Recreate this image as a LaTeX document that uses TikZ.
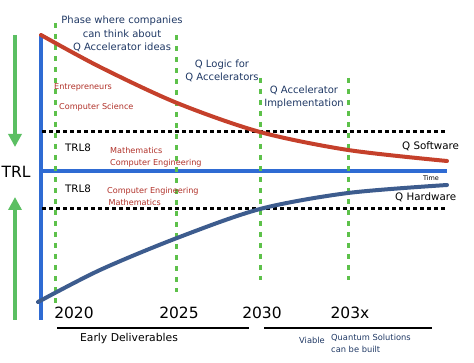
\documentclass[tikz,border=0pt]{standalone}
\usepackage{fontspec}
\setmainfont{DejaVu Sans}
\usetikzlibrary{arrows.meta, positioning}
\definecolor{axisblue}{HTML}{2F6BD3}
\definecolor{swred}{HTML}{C5402B}
\definecolor{hwblue}{HTML}{3D5C8E}
\definecolor{phasegreen}{HTML}{5DC14A}
\definecolor{arrowgreen}{HTML}{5BBF62}
\definecolor{navytext}{HTML}{1F3864}
\definecolor{redtext}{HTML}{B03028}

\begin{document}
\begin{tikzpicture}[x=1pt, y=-1pt,
    phase/.style={text=navytext, font=\fontsize{10}{13.5}\selectfont, align=center, inner sep=0pt},
    field/.style={text=redtext, font=\fontsize{8.1}{12}\selectfont, align=left, inner sep=0pt, anchor=west},
    level/.style={font=\fontsize{10.3}{12}\selectfont, inner sep=0pt, anchor=west},
    year/.style={font=\fontsize{15.5}{16}\selectfont, inner sep=0pt},
    milestone/.style={phasegreen, line width=3pt, dash pattern=on 5pt off 6pt},
    trlline/.style={black, line width=3pt, dash pattern=on 3.5pt off 3.5pt},
    curve/.style={line width=4pt, line cap=round},
    trlarrow/.style={arrowgreen, line width=4pt, -{Triangle[length=13pt, width=13pt]}},
    span/.style={black, line width=1.5pt}]
\useasboundingbox (0,0) rectangle (474,363);

% axes
\coordinate (top) at (41,35);
\coordinate (bottom) at (41,320);
\coordinate (t0) at (41,171);
\coordinate (t1) at (447,171);
\draw[axisblue, line width=4pt] (top) -- (bottom);
\draw[axisblue, line width=4pt] (t0) -- (t1);
\node (time) [font=\fontsize{6.5}{7}\selectfont, inner sep=0pt] at (431,178) {Time};

% TRL8 levels
\coordinate (sw0) at (42,132);
\coordinate (sw1) at (447,132);
\coordinate (hw0) at (42,209);
\coordinate (hw1) at (447,209);
\draw[trlline] (sw0) -- (sw1);
\draw[trlline] (hw0) -- (hw1);

% phase boundaries
\foreach \x/\ya/\yb in {55/23/305, 176/35/292, 260/78/280, 348/78/280}
  \draw[milestone] (\x,\ya) -- (\x,\yb);

% curves
\draw[curve, swred] plot[smooth, tension=0.5] coordinates {(41,35) (100,67) (177,103) (260,132) (348,150) (447,161)};
\draw[curve, hwblue] plot[smooth, tension=0.5] coordinates {(38,302) (100,270) (177,238) (260,209) (348,193) (447,185)};

% TRL arrows
\coordinate (d0) at (15,35);
\coordinate (d1) at (15,147);
\coordinate (u0) at (15,320);
\coordinate (u1) at (15,197);
\draw[trlarrow] (d0) -- (d1);
\draw[trlarrow] (u0) -- (u1);
\node (trl) [font=\fontsize{15.5}{18}\selectfont, inner sep=0pt] at (16,172) {TRL};

% phase labels
\node (idea) [phase] at (122,34) {Phase where companies\\can think about\\Q Accelerator ideas};
\node (logic) [phase] at (222,71) {Q Logic for\\Q Accelerators};
\node (impl) [phase] at (304,97) {Q Accelerator\\Implementation};

% fields
\node (entre) [field] at (54,87) {Entrepreneurs};
\node (cs) [field] at (59,107) {Computer Science};
\node (trlsw) [level] at (65,148) {TRL8};
\node (mathce) [field] at (110,157) {Mathematics\\Computer Engineering};
\node (trlhw) [level] at (65,189) {TRL8};
\node (cemath) [field] at (107,196) {Computer Engineering\\\,Mathematics};
\node (qsw) [level] at (402,146) {Q Software};
\node (qhw) [level] at (395,197) {Q Hardware};

% years
\node (y2020) [year] at (74,313) {2020};
\node (y2025) [year] at (179,313) {2025};
\node (y2030) [year] at (262,313) {2030};
\node (y203x) [year] at (350,313) {203x};

% deliverables
\coordinate (e0) at (57,328);
\coordinate (e1) at (249,328);
\coordinate (v0) at (264,328);
\coordinate (v1) at (432,328);
\draw[span] (e0) -- (e1);
\draw[span] (v0) -- (v1);
\node (early) [font=\fontsize{10.8}{12}\selectfont, inner sep=0pt] at (129,339) {Early Deliverables};
\node (viable) [text=navytext, font=\fontsize{8.3}{12}\selectfont, inner sep=0pt, anchor=west] at (299,340) {Viable};
\node (quantum) [text=navytext, font=\fontsize{8.3}{12}\selectfont, inner sep=0pt, anchor=north west, align=left] at (331,334) {Quantum Solutions\\can be built};
\end{tikzpicture}
\end{document}
